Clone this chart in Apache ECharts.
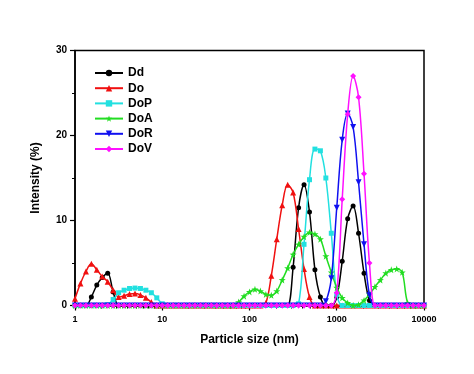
<!DOCTYPE html>
<html>
<head>
<meta charset="utf-8">
<script src="https://cdn.jsdelivr.net/npm/echarts@6/dist/echarts.min.js"></script>
<style>
html,body{margin:0;padding:0;background:#fff;}
#chart{width:474px;height:374px;}
</style>
</head>
<body>
<div id="chart"></div>
<script>
// Particle sizes (nm), log-spaced, 16 per decade
var sizes = [1,1.155,1.334,1.540,1.778,2.054,2.371,2.738,3.162,3.652,4.217,4.870,5.623,6.494,7.499,8.660,
  10,11.55,13.34,15.40,17.78,20.54,23.71,27.38,31.62,36.52,42.17,48.70,56.23,64.94,74.99,86.60,
  100,115.5,133.4,154.0,177.8,205.4,237.1,273.8,316.2,365.2,421.7,487.0,562.3,649.4,749.9,866.0,
  1000,1155,1334,1540,1778,2054,2371,2738,3162,3652,4217,4870,5623,6494,7499,8660,10000];

var seriesNames = ['Dd','Do','DoP','DoA','DoR','DoV'];

var Dd = [0,0,0,1.0,2.4,3.3,3.8,1.6,0,0,0,0,0,0,0,0,
  0,0,0,0,0,0,0,0,0,0,0,0,0,0,0,0,
  0,0,0,0,0,0,0,0,4.5,11.5,14.2,11.0,4.2,1.0,0,0,
  1.0,5.2,10.2,11.7,8.5,3.8,0.6,0,0,0,0,0,0,0,0,0,0];

var Do = [0.8,2.6,4.0,4.9,4.2,3.4,2.8,1.8,1.0,1.15,1.35,1.4,1.25,0.9,0.4,0,
  0,0,0,0,0,0,0,0,0,0,0,0,0,0,0,0,
  0,0,0,0.3,3.5,7.8,11.8,14.2,13.3,9.0,4.3,1.0,0,0,0,0,
  0,0,0,0,0,0,0,0,0,0,0,0,0,0,0,0,0];

var DoP = [0,0,0,0,0,0,0.1,0.7,1.5,1.8,2.0,2.05,2.0,1.8,1.5,0.9,
  0.2,0,0,0,0,0,0,0,0,0,0,0,0,0,0,0,
  0,0,0,0,0,0,0,0,0,0.2,7.2,14.8,18.4,18.2,15.0,8.5,
  1.3,0,0,0,0,0,0,0,0,0,0,0,0,0,0,0,0];

var DoA = [0,0,0,0,0,0,0,0,0,0,0,0,0,0,0,0,
  0,0,0,0,0,0,0,0,0,0,0,0,0,0,0.4,1.1,
  1.6,1.9,1.7,1.3,1.2,1.7,3.0,4.4,6.0,7.2,8.1,8.6,8.4,7.8,5.8,3.9,
  2.1,0.9,0.3,0,0.1,0.6,1.3,2.2,3.0,3.8,4.2,4.3,3.9,0.3,0,0,0];

var DoR = [0,0,0,0,0,0,0,0,0,0,0,0,0,0,0,0,
  0,0,0,0,0,0,0,0,0,0,0,0,0,0,0,0,
  0,0,0,0,0,0,0,0,0,0,0,0,0,0,0.5,3.2,
  11.5,19.5,22.6,21.0,14.5,7.2,1.2,0,0,0,0,0,0,0,0,0,0];

var DoV = [0,0,0,0,0,0,0,0,0,0,0,0,0,0,0,0,
  0,0,0,0,0,0,0,0,0,0,0,0,0,0,0,0,
  0,0,0,0,0,0,0,0,0,0,0,0,0,0,0,0,
  1.5,12.5,22.5,27.0,24.5,15.5,5.0,0,0,0,0,0,0,0,0,0,0];

var xMajorTicks = [1,10,100,1000,10000];
var xMinorTicks = [2,3,4,5,6,7,8,9,20,30,40,50,60,70,80,90,200,300,400,500,600,700,800,900,2000,3000,4000,5000,6000,7000,8000,9000];

var allValues = [Dd, Do, DoP, DoA, DoR, DoV];
var colors = ['#000000','#f01010','#22e0e0','#22dd22','#1010f0','#ff10ff'];
var star = 'path://M0,-10 L2.35,-3.24 L9.51,-3.09 L3.8,1.24 L5.88,8.09 L0,4 L-5.88,8.09 L-3.8,1.24 L-9.51,-3.09 L-2.35,-3.24 Z';
var symbols = ['circle','triangle','rect','star','triangle','diamond'];
var symRot = [0,0,0,0,180,0];
var symSize = [5,6,5,7,6,6];

var font = '"Liberation Sans", Arial, sans-serif';

var series = seriesNames.map(function(name, si){
  return {
    name: name,
    type: 'line',
    xAxisIndex: 0,
    smooth: 0.35,
    data: sizes.map(function(s, i){ return [s, allValues[si][i]]; }),
    symbol: symbols[si] === 'star' ? star : symbols[si],
    symbolRotate: symRot[si],
    symbolSize: symSize[si],
    showAllSymbol: true,
    color: colors[si],
    lineStyle: {width: 1.5, color: colors[si]},
    itemStyle: {color: colors[si]},
    animation: false,
    z: 2 + si
  };
});

var chart = echarts.init(document.getElementById('chart'), null, {renderer: 'canvas'});
chart.setOption({
  animation: false,
  backgroundColor: '#fff',
  grid: {left: 75, right: 50, top: 50.5, bottom: 68.5, show: true, borderColor: '#000', borderWidth: 1.5, containLabel: false},
  legend: {
    orient: 'vertical', left: 89, top: 61,
    itemWidth: 28, itemHeight: 8, itemGap: 1.2,
    textStyle: {fontFamily: font, fontWeight: 'bold', fontSize: 12, lineHeight: 14, color: '#000'},
    data: seriesNames
  },
  xAxis: [{
    type: 'log', logBase: 10, min: 1, max: 10000, position: 'bottom',
    name: 'Particle size (nm)', nameLocation: 'middle', nameGap: 28,
    nameTextStyle: {fontFamily: font, fontWeight: 'bold', fontSize: 12, color: '#000'},
    axisLine: {show: true, lineStyle: {color: '#000', width: 1.5}},
    axisTick: {show: true, length: 5, lineStyle: {color: '#000', width: 1.2}},
    axisLabel: {fontFamily: font, fontWeight: 'bold', fontSize: 9, color: '#000', margin: 10,
      formatter: function(v){ return String(Math.round(v)); }},
    splitLine: {show: false}
  },{
    type: 'value', min: 0, max: 4, position: 'bottom', offset: 0,
    axisLine: {show: true, lineStyle: {color: 'rgba(0,0,0,0)'}},
    axisTick: {show: true, length: 3, lineStyle: {color: '#000', width: 1},
      customValues: xMinorTicks.map(function(t){ return Math.log10(t); })},
    axisLabel: {show: false},
    splitLine: {show: false}
  }],
  yAxis: {
    type: 'value', min: 0, max: 30, interval: 10,
    name: 'Intensity (%)', nameLocation: 'middle', nameGap: 33, nameRotate: 90,
    nameTextStyle: {fontFamily: font, fontWeight: 'bold', fontSize: 12, color: '#000'},
    axisLine: {show: true, lineStyle: {color: '#000', width: 1.5}},
    axisTick: {show: true, length: 5, lineStyle: {color: '#000', width: 1.2}},
    minorTick: {show: true, splitNumber: 2, length: 3, lineStyle: {color: '#000', width: 1}},
    axisLabel: {fontFamily: font, fontWeight: 'bold', fontSize: 10, color: '#000', margin: 8},
    splitLine: {show: false}, minorSplitLine: {show: false}
  },
  series: series
});
</script>
</body>
</html>
